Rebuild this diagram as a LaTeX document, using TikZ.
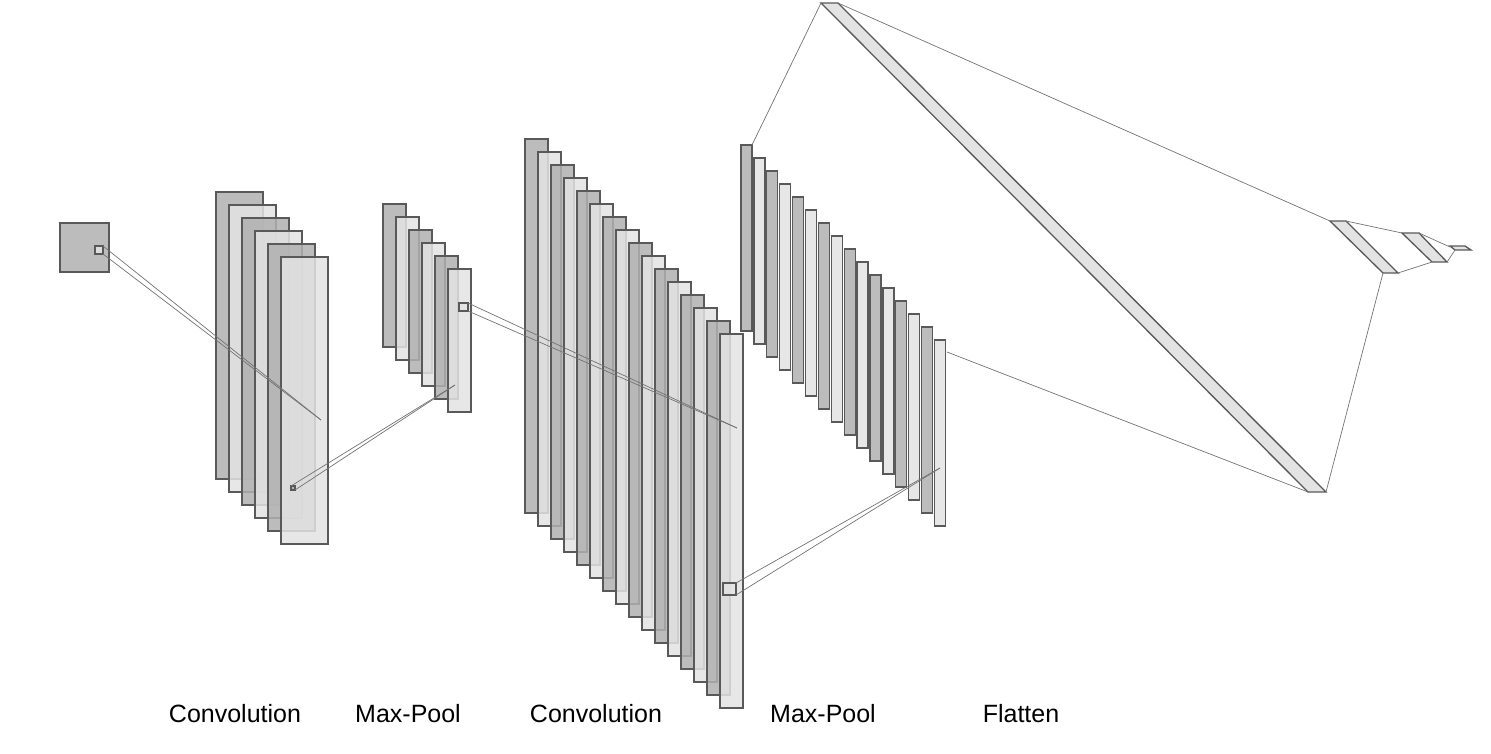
\documentclass[tikz,border=0pt]{standalone}
\usepackage{fontspec}
\setmainfont{Liberation Sans}
\begin{document}
\begin{tikzpicture}[x=1pt,y=-1pt,
  fm/.style={draw=black!65,line width=1.3pt,fill opacity=0.85},
  dk/.style={fm,fill=black!31},
  lt/.style={fm,fill=black!11},
  cn/.style={draw=black!55,line width=0.7pt},
  lab/.style={font=\fontsize{25}{28}\selectfont,anchor=base}]
\useasboundingbox (0,0) rectangle (1491,753);
% input
\draw[dk] (60,223) rectangle (109,272);
\draw[lt] (95,246) rectangle (103,254);
% conv1
\foreach \i in {0,...,5}{
  \pgfmathsetmacro\xx{216+13*\i}\pgfmathsetmacro\yy{192+13*\i}
  \ifodd\i \draw[lt] (\xx,\yy) rectangle ++(47,287); \else \draw[dk] (\xx,\yy) rectangle ++(47,287); \fi}
\draw[dk] (291,486) rectangle (295,490);
% pool1
\foreach \i in {0,...,5}{
  \pgfmathsetmacro\xx{383+13*\i}\pgfmathsetmacro\yy{204+13*\i}
  \ifodd\i \draw[lt] (\xx,\yy) rectangle ++(23,143); \else \draw[dk] (\xx,\yy) rectangle ++(23,143); \fi}
\draw[lt] (459,303) rectangle (468,311);
% conv2
\foreach \i in {0,...,15}{
  \pgfmathsetmacro\xx{525+13*\i}\pgfmathsetmacro\yy{139+13*\i}
  \ifodd\i \draw[lt] (\xx,\yy) rectangle ++(23,374); \else \draw[dk] (\xx,\yy) rectangle ++(23,374); \fi}
\draw[lt] (723,583) rectangle (736,595);
% pool2
\foreach \i in {0,...,15}{
  \pgfmathsetmacro\xx{741+12.9*\i}\pgfmathsetmacro\yy{145+13*\i}
  \ifodd\i \draw[lt] (\xx,\yy) rectangle ++(11,186); \else \draw[dk] (\xx,\yy) rectangle ++(11,186); \fi}
% dense
\draw[lt,fill opacity=1] (821,3) -- (838,3) -- (1326,492) -- (1308,492) -- cycle;
\draw[lt,fill opacity=1] (1330,221) -- (1346,221) -- (1398,273) -- (1383,273) -- cycle;
\draw[lt,fill opacity=1] (1402,233) -- (1419,233) -- (1447,262) -- (1432,262) -- cycle;
\draw[lt,fill opacity=1] (1450,246) -- (1465,246) -- (1471,250) -- (1455,250) -- cycle;
% connectors
\coordinate (c1) at (321,420); \coordinate (p1) at (455,385);
\coordinate (c2) at (737,428); \coordinate (p2) at (940,468);
\draw[cn] (103,246) -- (c1); \draw[cn] (103,254) -- (c1);
\draw[cn] (291,486) -- (p1); \draw[cn] (295,490) -- (p1);
\draw[cn] (468,303) -- (c2); \draw[cn] (468,311) -- (c2);
\draw[cn] (736,583) -- (p2); \draw[cn] (736,595) -- (p2);
\draw[cn] (752,145) -- (821,3);
\draw[cn] (838,3) -- (1330,221);
\draw[cn] (947,352) -- (1308,492);
\draw[cn] (1326,492) -- (1383,273);
\draw[cn] (1346,221) -- (1402,233);
\draw[cn] (1398,273) -- (1432,262);
\draw[cn] (1419,233) -- (1450,247);
\draw[cn] (1447,262) -- (1455,250);
% labels
\node[lab] (l1) at (235,722) {Convolution};
\node[lab] (l2) at (408,722) {Max-Pool};
\node[lab] (l3) at (596,722) {Convolution};
\node[lab] (l4) at (823,722) {Max-Pool};
\node[lab] (l5) at (1021,722) {Flatten};
\end{tikzpicture}
\end{document}
